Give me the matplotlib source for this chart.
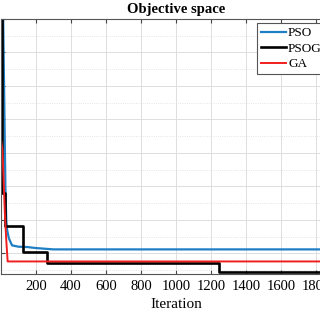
import matplotlib
matplotlib.use("Agg")
import matplotlib.pyplot as plt
from matplotlib.ticker import MultipleLocator

# Convergence data
pso_iter = [0, 10, 20, 25, 30, 35, 45, 63, 100, 150, 200, 250, 300, 2000]
pso_cost = [12.0, 9.0, 5.0, 3.0, 2.0, 1.7, 1.45, 1.24, 1.2, 1.19, 1.16, 1.14, 1.12, 1.12]

psog_iter = [0, 8, 20, 125, 265, 1245, 2000]
psog_cost = [12.0, 2.8, 1.81, 1.03, 0.70, 0.43, 0.43]

ga_iter = [0, 8, 15, 22, 30, 38, 2000]
ga_cost = [4.4, 4.1, 3.2, 2.2, 1.4, 0.76, 0.76]

labels = ["PSO", "PSOG", "GA"]
x_ticks = list(range(200, 2000, 200))


def main():
    plt.rcParams["font.family"] = ["Liberation Serif", "DejaVu Serif"]

    fig = plt.figure(figsize=(3.2, 3.2), dpi=100)
    # axes run past the right edge, like the cropped original
    ax = fig.add_axes([1 / 320, 1 - 273.5 / 320, 350 / 320, 254.5 / 320])

    ax.plot(pso_iter, pso_cost, color="#1f7fc4", lw=1.6, label=labels[0])
    ax.plot(psog_iter, psog_cost, color="black", lw=1.9, drawstyle="steps-post", label=labels[1])
    ax.plot(ga_iter, ga_cost, color="#F01E1E", lw=1.4, label=labels[2])

    ax.set_xlim(0, 2000)
    ax.set_ylim(0.4, 8)
    ax.set_xticks(x_ticks)
    ax.yaxis.set_major_locator(MultipleLocator(1))
    ax.yaxis.set_minor_locator(MultipleLocator(0.5))

    ax.grid(True, which="major", color="#dedede", lw=0.7)
    ax.grid(True, which="minor", axis="y", color="#dcdcdc", lw=0.6, ls=":")
    ax.tick_params(direction="in", top=True, right=True, labelleft=False,
                   labelsize=10.5, length=3, color="#444444", pad=5)
    ax.tick_params(which="minor", length=0)
    for s in ax.spines.values():
        s.set_color("#555555")
        s.set_linewidth(0.8)

    ax.set_xlabel("Iteration", fontsize=11, labelpad=3)
    ax.set_title("Objective space", fontsize=10.5, fontweight="bold", x=175 / 350, pad=4)

    leg = ax.legend(loc="upper left", bbox_to_anchor=(257 / 320, 1 - 23 / 320),
                    bbox_transform=fig.transFigure, borderaxespad=0,
                    fontsize=9.5, fancybox=False, framealpha=1, handlelength=1.9,
                    handletextpad=0.15, labelspacing=0.25, borderpad=0.3)
    leg.get_frame().set_edgecolor("#555555")
    leg.get_frame().set_linewidth(0.8)

    fig.savefig("out.png", dpi=100)


if __name__ == "__main__":
    main()
